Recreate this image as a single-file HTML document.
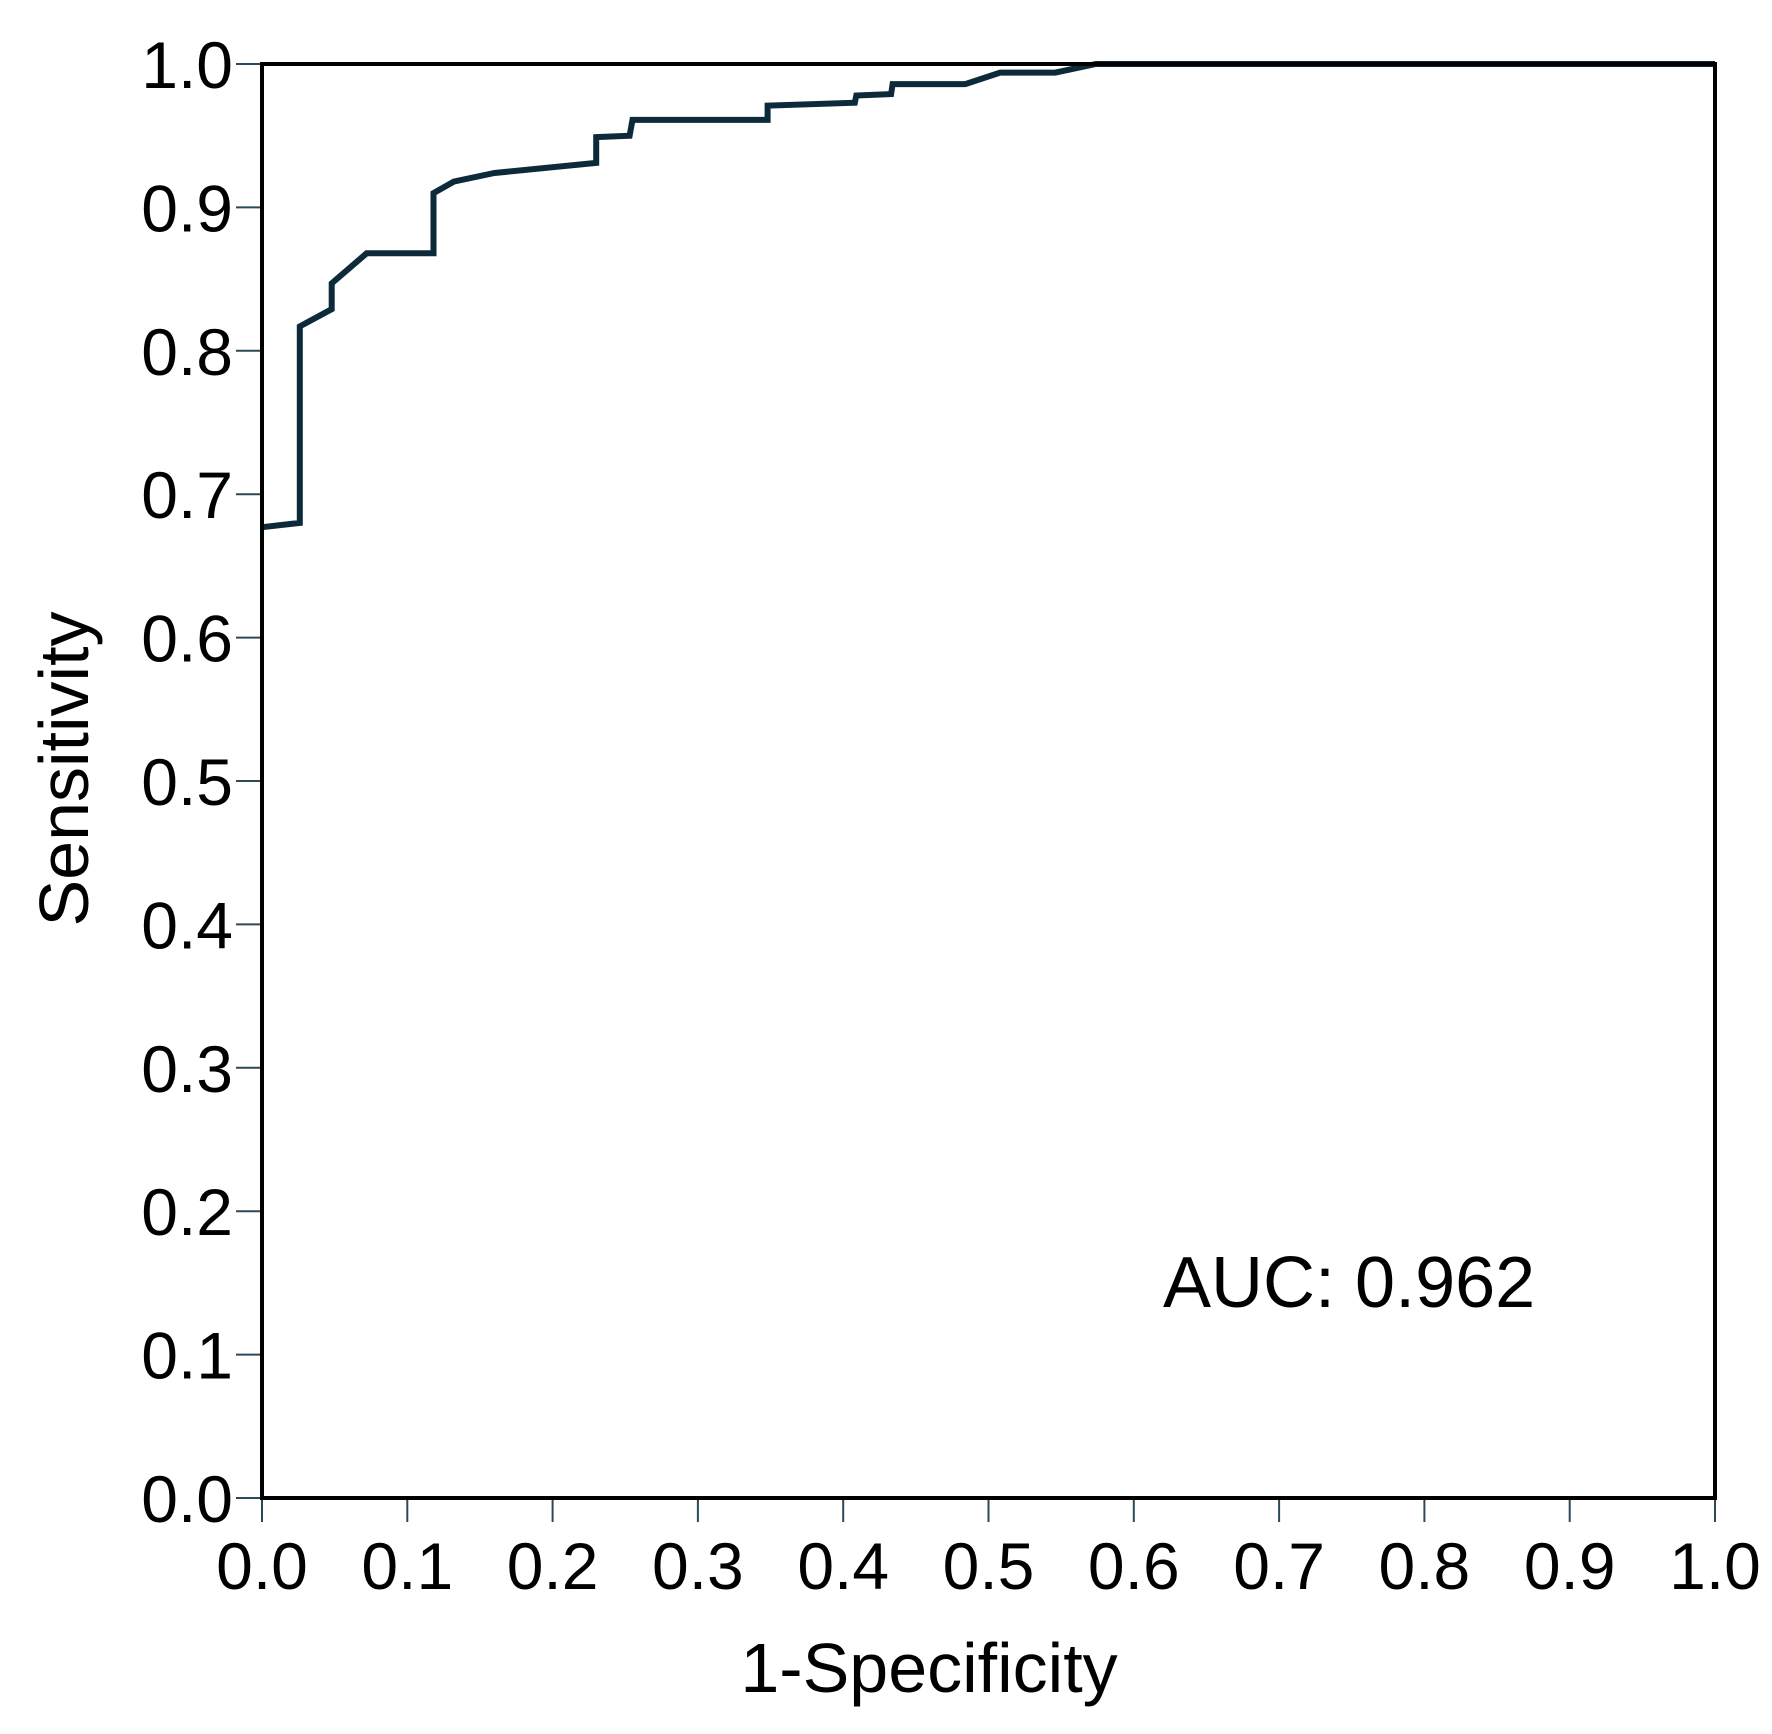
<!DOCTYPE html>
<html><head><meta charset="utf-8"><style>
html,body{margin:0;padding:0;background:#fff;}
svg text{font-family:"Liberation Sans",Arial,sans-serif;fill:#000;}
</style></head><body>
<svg id="chart" width="1772" height="1729" viewBox="0 0 1772 1729" xmlns="http://www.w3.org/2000/svg">
<g id="ticks"></g>
<path id="curve" fill="none" stroke="#0d2a3a" stroke-width="6" stroke-linejoin="miter"></path>
<rect x="262" y="64" width="1453" height="1434" fill="none" stroke="#000" stroke-width="4"></rect>
<text x="1163" y="1307" font-size="72">AUC: 0.962</text>
<text x="929" y="1692" font-size="70" text-anchor="middle">1-Specificity</text>
<text transform="translate(88,769) rotate(-90)" font-size="70" text-anchor="middle">Sensitivity</text>
</svg>
<script>
const fpr = [0,0.026,0.026,0.048,0.048,0.072,0.118,0.118,0.132,0.160,0.230,0.230,0.253,0.255,0.348,0.348,0.408,0.409,0.433,0.434,0.484,0.508,0.546,0.574,1.0];
const tpr = [0.677,0.680,0.817,0.829,0.847,0.868,0.868,0.910,0.918,0.924,0.931,0.949,0.950,0.961,0.961,0.971,0.973,0.978,0.979,0.986,0.986,0.994,0.994,1.0,1.0];
const tickValues = [0,0.1,0.2,0.3,0.4,0.5,0.6,0.7,0.8,0.9,1.0];
const tickLabels = ["0.0","0.1","0.2","0.3","0.4","0.5","0.6","0.7","0.8","0.9","1.0"];

const X0=262,X1=1715,Y0=1498,Y1=64;
function xs(v){return X0+v*(X1-X0);}
function ys(v){return Y0-v*(Y0-Y1);}
const NS="http://www.w3.org/2000/svg";
let d="";
for(let i=0;i<fpr.length;i++){d+=(i?"L":"M")+xs(fpr[i]).toFixed(1)+","+ys(tpr[i]).toFixed(1);}
document.getElementById('curve').setAttribute('d',d);
const g=document.getElementById('ticks');
tickValues.forEach((v,i)=>{
  const ty=ys(v);
  const l=document.createElementNS(NS,'line');
  
  
  l.setAttribute('x1',X0-26);l.setAttribute('x2',X0);l.setAttribute('y1',ty);l.setAttribute('y2',ty);
  l.setAttribute('stroke','#2a4a5a');l.setAttribute('stroke-width','2');g.appendChild(l);
  const t=document.createElementNS(NS,'text');
  
  
  t.setAttribute('x',X0-29);t.setAttribute('y',ty+24);t.setAttribute('font-size','66');t.setAttribute('text-anchor','end');
  t.textContent=tickLabels[i];g.appendChild(t);
  const tx=xs(v);
  const m=document.createElementNS(NS,'line');
  
  
  m.setAttribute('x1',tx);m.setAttribute('x2',tx);m.setAttribute('y1',Y0);m.setAttribute('y2',Y0+24);
  m.setAttribute('stroke','#2a4a5a');m.setAttribute('stroke-width','2');g.appendChild(m);
  const u=document.createElementNS(NS,'text');
  
  
  u.setAttribute('x',tx);u.setAttribute('y',1589);u.setAttribute('font-size','66');u.setAttribute('text-anchor','middle');
  u.textContent=tickLabels[i];g.appendChild(u);
});
</script>
</body></html>
